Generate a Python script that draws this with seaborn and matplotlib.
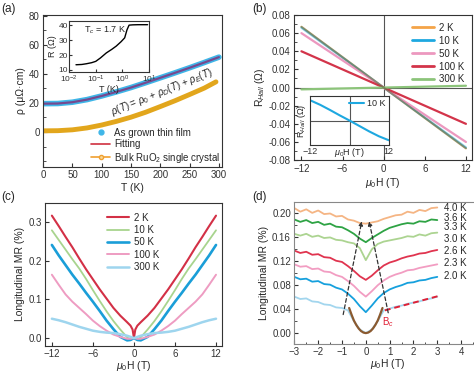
import matplotlib
matplotlib.use("Agg")
import matplotlib.pyplot as plt
from matplotlib.lines import Line2D
from matplotlib.ticker import MultipleLocator
import seaborn as sns

# ---- (a) resistivity vs temperature ----
T_film = [0, 25, 50, 75, 100, 125, 150, 175, 200, 225, 250, 275, 300]
rho_film = [19.5, 19.6, 20.5, 22.3, 24.8, 27.6, 30.6, 33.9, 37.3, 40.7, 44.2, 47.8, 51.5]
T_bulk = [0, 25, 50, 75, 100, 125, 150, 175, 200, 225, 250, 275, 295]
rho_bulk = [0.8, 0.9, 1.5, 2.8, 4.8, 7.3, 10.2, 13.6, 17.5, 21.5, 25.8, 30.2, 34.5]
T_inset = [0.018, 0.03, 0.045, 0.07, 0.1, 0.15, 0.25, 0.4, 0.59, 0.9, 1.23, 1.5, 1.8, 2.5, 4, 6, 9]
R_inset = [13.4, 13.6, 14.1, 14.8, 15.7, 18.0, 21.4, 23.8, 26.0, 29.0, 31.6, 37.0, 40.2, 40.4, 40.5, 40.5, 40.5]

# ---- (b) Hall resistance ----
H_hall = [-12, 12]
hall_labels = ["2 K", "10 K", "50 K", "100 K", "300 K"]
hall_2K = [0.067, -0.067]
hall_10K = [0.066, -0.066]
hall_50K = [0.060, -0.060]
hall_100K = [0.040, -0.040]
hall_300K = [-0.002, 0.002]
H_ins = [-12, -9, -6, -3, 0, 3, 6, 9, 12]
hall_10K_ins = [0.82, 0.64, 0.43, 0.21, 0.0, -0.22, -0.44, -0.64, -0.80]

# ---- (c) longitudinal MR, +-12 T ----
H_c = [-12, -11, -10, -9, -8, -7, -6, -5, -4, -3, -2, -1, -0.5, -0.2, 0,
       0.2, 0.5, 1, 2, 3, 4, 5, 6, 7, 8, 9, 10, 11, 12]
mr_2K = [0.317, 0.29, 0.262, 0.235, 0.206, 0.178, 0.152, 0.126, 0.102, 0.078, 0.058, 0.041, 0.032, 0.022, 0.0,
         0.022, 0.032, 0.041, 0.058, 0.078, 0.102, 0.126, 0.152, 0.178, 0.206, 0.235, 0.262, 0.29, 0.317]
mr_10K = [0.279, 0.254, 0.229, 0.204, 0.18, 0.153, 0.124, 0.096, 0.069, 0.044, 0.022, 0.002, -0.004, -0.002, 0.0,
          -0.002, -0.004, 0.002, 0.022, 0.044, 0.069, 0.096, 0.124, 0.153, 0.18, 0.204, 0.229, 0.254, 0.279]
mr_50K = [0.241, 0.214, 0.189, 0.164, 0.141, 0.117, 0.094, 0.07, 0.045, 0.023, 0.003, -0.006, -0.005, -0.002, 0.0,
          -0.002, -0.005, -0.006, 0.003, 0.023, 0.045, 0.07, 0.094, 0.117, 0.141, 0.164, 0.189, 0.214, 0.241]
mr_100K = [0.164, 0.138, 0.113, 0.094, 0.078, 0.062, 0.045, 0.031, 0.019, 0.009, 0.003, -0.002, -0.002, -0.001, 0.0,
           -0.001, -0.002, -0.002, 0.003, 0.009, 0.019, 0.031, 0.045, 0.062, 0.078, 0.094, 0.113, 0.138, 0.164]
mr_300K = [0.05, 0.046, 0.041, 0.035, 0.029, 0.024, 0.019, 0.016, 0.014, 0.013, 0.01, 0.006, 0.003, 0.001, 0.0,
           0.001, 0.003, 0.006, 0.01, 0.013, 0.014, 0.016, 0.019, 0.024, 0.029, 0.035, 0.041, 0.046, 0.05]
mr_labels = ["2 K", "10 K", "50 K", "100 K", "300 K"]

# ---- (d) low-field MR near Tc ----
H_d = [-3, -2.75, -2.5, -2.25, -2, -1.75, -1.5, -1.25, -1, -0.75, -0.5, -0.25, 0,
       0.25, 0.5, 0.75, 1, 1.25, 1.5, 1.75, 2, 2.25, 2.5, 2.75, 3]
d_40 = [0.209, 0.203, 0.207, 0.201, 0.205, 0.199, 0.2, 0.195, 0.196, 0.19, 0.188, 0.184, 0.183,
        0.185, 0.187, 0.191, 0.194, 0.197, 0.198, 0.203, 0.201, 0.206, 0.204, 0.209, 0.21]
d_36 = [0.19, 0.186, 0.189, 0.184, 0.186, 0.181, 0.183, 0.178, 0.177, 0.172, 0.166, 0.158, 0.152,
        0.159, 0.165, 0.171, 0.176, 0.179, 0.182, 0.184, 0.183, 0.187, 0.186, 0.19, 0.189]
d_33 = [0.166, 0.163, 0.166, 0.161, 0.163, 0.159, 0.16, 0.156, 0.155, 0.152, 0.15, 0.142, 0.122,
        0.14, 0.149, 0.153, 0.155, 0.157, 0.159, 0.162, 0.161, 0.165, 0.163, 0.167, 0.168]
d_30 = [0.138, 0.134, 0.136, 0.131, 0.132, 0.127, 0.126, 0.121, 0.119, 0.112, 0.104, 0.095, 0.089,
        0.096, 0.105, 0.113, 0.118, 0.121, 0.125, 0.128, 0.13, 0.133, 0.134, 0.137, 0.139]
d_26 = [0.115, 0.111, 0.112, 0.107, 0.108, 0.103, 0.102, 0.097, 0.094, 0.087, 0.079, 0.069, 0.061,
        0.07, 0.08, 0.088, 0.094, 0.098, 0.101, 0.105, 0.106, 0.109, 0.111, 0.113, 0.115]
d_23 = [0.094, 0.09, 0.091, 0.086, 0.087, 0.082, 0.081, 0.076, 0.073, 0.066, 0.057, 0.045, 0.035,
        0.046, 0.058, 0.067, 0.073, 0.077, 0.08, 0.084, 0.085, 0.088, 0.089, 0.092, 0.094]
d_20 = [0.061, 0.057, 0.058, 0.053, 0.052, 0.048, 0.047, 0.043, 0.042, 0.038, 0.02, 0.006, 0.0,
        0.006, 0.02, 0.038, 0.041, 0.044, 0.046, 0.049, 0.051, 0.053, 0.056, 0.058, 0.061]
d_labels = ["4.0 K", "3.6 K", "3.3 K", "3.0 K", "2.6 K", "2.3 K", "2.0 K"]
d_label_y = [0.209, 0.193, 0.177, 0.157, 0.137, 0.117, 0.096]
H_par = [-0.7, -0.6, -0.5, -0.4, -0.3, -0.2, -0.1, 0, 0.1, 0.2, 0.3, 0.4, 0.5, 0.6, 0.7]
mr_par = [0.042, 0.031, 0.021, 0.0136, 0.0077, 0.0034, 0.0009, 0.0, 0.0009, 0.0034, 0.0077, 0.0136, 0.021, 0.031, 0.042]
H_lin = [0.8, 3.05]
mr_lin = [0.038, 0.062]

sns.set_style("ticks")
plt.rcParams["font.family"] = ["Liberation Sans", "DejaVu Sans"]
plt.rcParams["mathtext.fontset"] = "custom"
plt.rcParams["mathtext.rm"] = "Liberation Sans"
plt.rcParams["mathtext.it"] = "Liberation Sans:italic"
plt.rcParams["font.size"] = 7
plt.rcParams["axes.linewidth"] = 0.8
plt.rcParams["axes.edgecolor"] = "#333333"
for k in ["xtick", "ytick"]:
    plt.rcParams[f"{k}.direction"] = "in"
    plt.rcParams[f"{k}.major.size"] = 3
    plt.rcParams[f"{k}.minor.size"] = 1.8
    plt.rcParams[f"{k}.labelsize"] = 7
    plt.rcParams[f"{k}.color"] = "#333333"
    plt.rcParams[f"{k}.major.pad"] = 2.5

fig = plt.figure(figsize=(4.74, 3.75), dpi=100)

# ================= (a) =================
ax = fig.add_axes([0.091, 0.555, 0.377, 0.405])
sns.lineplot(x=T_film, y=rho_film, ax=ax, color="#3fb6e8", lw=4.0, legend=False)
sns.lineplot(x=T_film, y=rho_film, ax=ax, color="#7d3d86", lw=1.6, alpha=0.9, legend=False)
sns.lineplot(x=T_bulk, y=rho_bulk, ax=ax, color="#e2a61c", lw=3.5, legend=False)
ax.set_xlim(0, 305)
ax.set_ylim(-24, 80.5)
ax.set_xticks([0, 50, 100, 150, 200, 250, 300])
ax.set_yticks([0, 20, 40, 60, 80])
ax.yaxis.set_minor_locator(MultipleLocator(10))
ax.set_xlabel("T (K)", fontsize=7.5, labelpad=2)
ax.set_ylabel("ρ (μΩ·cm)", fontsize=7.5, labelpad=2)
ax.text(203, 27.5, r"$\rho(T)$ = $\rho_0$ + $\rho_D(T)$ + $\rho_E(T)$", rotation=22,
        ha="center", va="center", fontsize=7)
handles = [
    Line2D([], [], color="#3fb6e8", marker="o", ms=3.5, lw=0),
    Line2D([], [], color="#d03040", lw=1.2),
    Line2D([], [], color="#f0a030", lw=1.2, marker="o", ms=3, mfc="#f8d89a"),
]
ax.legend(handles, ["As grown thin film", "Fitting", r"Bulk RuO$_2$ single crystal"],
          loc="lower left", bbox_to_anchor=(0.23, -0.03), frameon=False, fontsize=7,
          handlelength=2.0, handletextpad=0.4, labelspacing=0.15, borderpad=0.2)

axi = fig.add_axes([0.146, 0.808, 0.168, 0.136])
sns.lineplot(x=T_inset, y=R_inset, ax=axi, color="black", lw=1.0, legend=False)
axi.set_xscale("log")
axi.set_xlim(0.01, 10)
axi.set_ylim(8.5, 43)
axi.set_yticks([10, 20, 30, 40])
axi.tick_params(labelsize=6, pad=1, length=2)
axi.tick_params(which="minor", length=0)
axi.set_xlabel("T (K)", fontsize=6.5, labelpad=0)
axi.set_ylabel("R (Ω)", fontsize=6.5, labelpad=1)
axi.text(0.45, 0.82, r"T$_c$ = 1.7 K", transform=axi.transAxes, ha="center", va="center", fontsize=6.5)

# ================= (b) =================
bx = fig.add_axes([0.620, 0.573, 0.376, 0.387])
bx.axhline(0, color="#555555", lw=0.8, zorder=0)
bx.axvline(0, color="#555555", lw=0.8, zorder=0)
hall_sets = [hall_2K, hall_10K, hall_50K, hall_100K, hall_300K]
hall_colors = ["#f4a448", "#1ea8e0", "#ec98bf", "#d3344a", "#8cc47a"]
hall_alpha = [0.55, 0.55, 1, 1, 1]
for vals, lab, c, a in zip(hall_sets, hall_labels, hall_colors, hall_alpha):
    sns.lineplot(x=H_hall, y=vals, ax=bx, color=c, lw=1.6, alpha=a, label=lab)
bx.plot(H_hall, hall_2K, color="#5d6e48", lw=1.4, alpha=0.6)
bx.set_xlim(-13.1, 12.9)
bx.set_ylim(-0.08, 0.08)
bx.set_xticks([-12, -6, 0, 6, 12])
bx.set_yticks([-0.08, -0.06, -0.04, -0.02, 0.0, 0.02, 0.04, 0.06, 0.08])
bx.set_yticklabels(["-0.08", "-0.06", "-0.04", "-0.02", "0.00", "0.02", "0.04", "0.06", "0.08"])
bx.yaxis.set_minor_locator(MultipleLocator(0.01))
bx.set_xlabel(r"$\mu_0$H (T)", fontsize=7.5, labelpad=2)
bx.set_ylabel(r"R$_{Hall}$ (Ω)", fontsize=7.5, labelpad=1)
leg = bx.legend(loc="upper right", frameon=False, fontsize=7, handlelength=2.3,
                handletextpad=0.5, labelspacing=0.3, borderpad=0.3)
for line, c in zip(leg.get_lines(), hall_colors):
    line.set_color(c)
    line.set_alpha(1)
    line.set_linewidth(2.0)

bi = fig.add_axes([0.655, 0.613, 0.165, 0.131])
bi.axhline(0, color="#555555", lw=0.8, zorder=0)
bi.axvline(0, color="#555555", lw=0.8, zorder=0)
sns.lineplot(x=H_ins, y=hall_10K_ins, ax=bi, color="#1ea8e0", lw=1.5, label="10 K")
bi.set_xlim(-12, 12)
bi.set_ylim(-1, 1)
bi.set_xticks([-12, 12])
bi.set_yticks([])
bi.tick_params(labelsize=6.5, pad=1, length=0)
bi.set_xlabel(r"$\mu_0$H (T)", fontsize=6.5, labelpad=-7)
bi.set_ylabel(r"R$_{Hall}$ (Ω)", fontsize=6.5, labelpad=2)
bi.legend(loc="upper right", frameon=False, fontsize=6.5, handlelength=1.6,
          handletextpad=0.4, borderpad=0.2, borderaxespad=0.1)

# ================= (c) =================
cx = fig.add_axes([0.095, 0.078, 0.373, 0.381])
mr_sets = [mr_2K, mr_10K, mr_50K, mr_100K, mr_300K]
mr_colors = ["#d33046", "#a8d48e", "#1a9ed8", "#ee9cc2", "#9ed5ee"]
mr_lw = [1.5, 1.3, 1.9, 1.4, 1.8]
for vals, lab, c, w in zip(mr_sets, mr_labels, mr_colors, mr_lw):
    sns.lineplot(x=H_c, y=vals, ax=cx, color=c, lw=w, label=lab)
cx.set_xlim(-13, 12.85)
cx.set_ylim(-0.02, 0.35)
cx.set_xticks([-12, -6, 0, 6, 12])
cx.set_yticks([0.0, 0.1, 0.2, 0.3])
cx.set_xlabel(r"$\mu_0$H (T)", fontsize=7.5, labelpad=0)
cx.set_ylabel("Longitudinal MR (%)", fontsize=7.5, labelpad=2)
cx.legend(loc="upper center", bbox_to_anchor=(0.5, 0.98), frameon=False, fontsize=7,
          handlelength=2.3, handletextpad=0.5, labelspacing=0.25, borderpad=0.2)

# ================= (d) =================
dx = fig.add_axes([0.621, 0.083, 0.392, 0.378])
d_sets = [d_40, d_36, d_33, d_30, d_26, d_23, d_20]
d_colors = ["#f5b584", "#2ea344", "#acd491", "#e0344f", "#f29dc2", "#16a0dd", "#a3d6ee"]
for vals, c in zip(d_sets, d_colors):
    sns.lineplot(x=H_d, y=vals, ax=dx, color=c, lw=1.3, legend=False)
sns.lineplot(x=H_par, y=mr_par, ax=dx, color="#8b5a30", lw=1.6, legend=False)
sns.lineplot(x=H_lin, y=mr_lin, ax=dx, color="#e02035", lw=1.4, linestyle=(0, (3, 2)), legend=False)
for x0, y0, x1, y1 in [(-0.95, 0.031, -0.17, 0.187), (0.94, 0.034, 0.14, 0.187)]:
    dx.annotate("", xy=(x1, y1), xytext=(x0, y0),
                arrowprops=dict(arrowstyle="-|>", color="#333333", lw=0.9, ls=(0, (3, 2)),
                                mutation_scale=6, shrinkA=0, shrinkB=0))
for lab, yv in zip(d_labels, d_label_y):
    dx.text(3.3, yv, lab, ha="left", va="center", fontsize=7)
dx.text(0.95, 0.019, r"B$_c$", color="#e02035", fontsize=7, ha="center", va="center")
dx.set_xlim(-3, 4.8)
dx.set_ylim(-0.018, 0.219)
dx.set_xticks([-3, -2, -1, 0, 1, 2, 3, 4])
dx.set_yticks([0.0, 0.04, 0.08, 0.12, 0.16, 0.20])
dx.set_yticklabels(["0.00", "0.04", "0.08", "0.12", "0.16", "0.20"])
dx.xaxis.set_minor_locator(MultipleLocator(0.5))
dx.yaxis.set_minor_locator(MultipleLocator(0.02))
for s in dx.spines.values():
    s.set_color("#888888")
dx.set_xlabel(r"$\mu_0$H (T)", fontsize=7.5, labelpad=0)
dx.set_ylabel("Longitudinal MR (%)", fontsize=7.5, labelpad=2)

for lab, x, y in [("(a)", 0.002, 0.975), ("(b)", 0.532, 0.975), ("(c)", 0.002, 0.475), ("(d)", 0.532, 0.475)]:
    fig.text(x, y, lab, fontsize=8.5, ha="left", va="center")

fig.savefig("out.png", dpi=100)
